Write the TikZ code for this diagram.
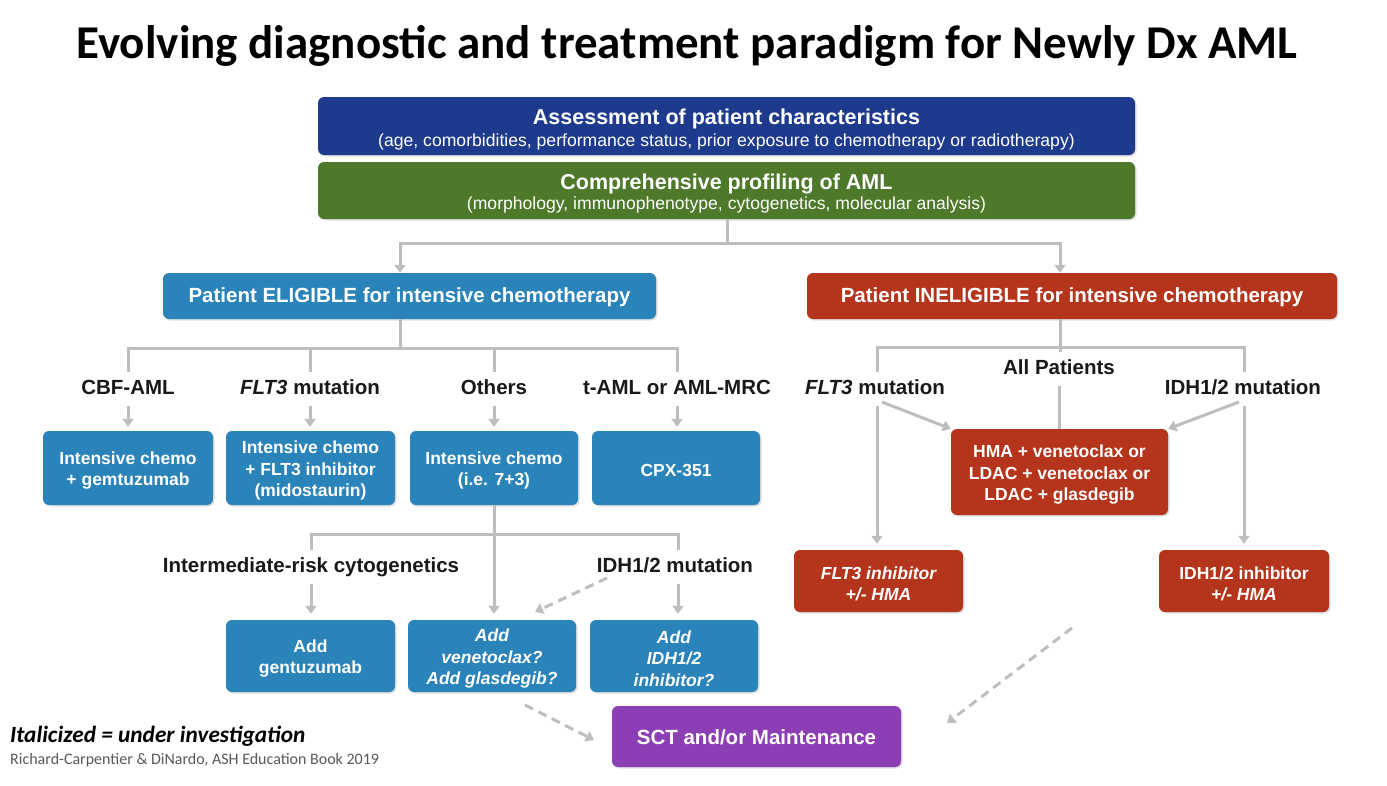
\documentclass[tikz,border=0pt]{standalone}
\usepackage{fontspec}
\setmainfont{Liberation Sans}
\newfontfamily\calib{Carlito}
\usetikzlibrary{arrows.meta,shadows}
\definecolor{navy}{RGB}{30,58,140}
\definecolor{olive}{RGB}{78,120,42}
\definecolor{sky}{RGB}{42,131,185}
\definecolor{brick}{RGB}{180,53,28}
\definecolor{violet}{RGB}{140,62,180}
\definecolor{lgray}{RGB}{190,190,190}
\newcommand\padS{\rule{0pt}{18pt}}
\newcommand\padT{\rule{0pt}{22pt}}
\tikzset{
  box/.style={rounded corners=6pt, text=white, align=center, inner sep=0pt,
    drop shadow={opacity=0.25, shadow xshift=1.5pt, shadow yshift=-1.5pt}},
  small/.style={font=\fontsize{17.5}{21.5}\bfseries},
  head/.style={font=\fontsize{20.5}{24}\bfseries},
  lab/.style={font=\fontsize{20.5}{24}\bfseries, text=black!90, inner ysep=7pt, inner xsep=0pt,
    text height=15pt, text depth=4pt},
  ln/.style={draw=lgray, line width=3pt},
  arr/.style={ln, -{Triangle[width=11pt,length=8pt]}},
  darr/.style={arr, dash pattern=on 9pt off 6pt},
}
\begin{document}
\begin{tikzpicture}[x=1pt,y=-1pt]
\useasboundingbox (0,0) rectangle (1387,785);
\fill[white] (0,0) rectangle (1387,785);
% title
\node[font=\calib\fontsize{47}{54}\bfseries] (title) at (687,46) {Evolving diagnostic and treatment paradigm for Newly Dx AML};
% top boxes
\node[box, fill=navy, minimum width=817pt, minimum height=58pt] (assess) at (726.5,126)
  {{\padT\fontsize{21.5}{24}\bfseries Assessment of patient characteristics}\\[4pt]
   {\fontsize{17.6}{20}\selectfont (age, comorbidities, performance status, prior exposure to chemotherapy or radiotherapy)}};
\node[box, fill=olive, minimum width=817pt, minimum height=57pt] (profile) at (726.5,190.5)
  {{\padT\fontsize{21.5}{24}\bfseries Comprehensive profiling of AML}\\[2pt]
   {\fontsize{17.6}{20}\selectfont (morphology, immunophenotype, cytogenetics, molecular analysis)}};
% eligibility
\node[box, fill=sky, head, minimum width=493pt, minimum height=46pt] (elig) at (409.5,296) {\rule{0pt}{17pt}Patient ELIGIBLE for intensive chemotherapy};
\node[box, fill=brick, head, minimum width=530pt, minimum height=46pt] (inelig) at (1072,296) {\rule{0pt}{17pt}Patient INELIGIBLE for intensive chemotherapy};
\coordinate (pb) at (727,243);
\coordinate (pl) at (400,243);
\coordinate (pr) at (1060,243);
\draw[ln] (profile.south -| pb) -- (pb);
\draw[arr] (pb) -- (pl) -- (elig.north -| pl);
\draw[arr] (pb) -- (pr) -- (inelig.north -| pr);
% eligible branch
\coordinate (eb) at (400,348);
\node[lab] (cbf) at (128,389) {CBF-AML};
\node[lab] (flt) at (310,389) {\textit{FLT3} mutation};
\node[lab] (oth) at (494,389) {Others};
\node[lab] (tam) at (677,389) {t-AML or AML-MRC};
\draw[ln] (elig.south -| eb) -- (eb);
\draw[ln] (cbf.north) |- (eb);
\draw[ln] (tam.north) |- (eb);
\draw[ln] (flt.north) -- (flt.north |- eb);
\draw[ln] (oth.north) -- (oth.north |- eb);
\node[box, fill=sky, small, minimum width=170pt, minimum height=74pt] (b1) at (128,468) {\padS Intensive chemo\\+ gemtuzumab};
\node[box, fill=sky, small, minimum width=169pt, minimum height=74pt] (b2) at (310.5,468) {\padS Intensive chemo\\+ FLT3 inhibitor\\(midostaurin)};
\node[box, fill=sky, small, minimum width=168pt, minimum height=74pt] (b3) at (494,468) {\padS Intensive chemo\\(i.e. 7+3)};
\node[box, fill=sky, small, minimum width=168pt, minimum height=74pt] (b4) at (676,468) {\padS CPX-351};
\foreach \l/\b in {cbf/b1,flt/b2,oth/b3,tam/b4}
  \draw[arr, shorten >=4pt] (\l.south) -- (\l.south |- \b.north);
% second level
\coordinate (sb) at (494,534);
\node[lab] (inter) at (311,567) {Intermediate-risk cytogenetics};
\node[lab] (idhl) at (675,567) {IDH1/2 mutation};
\node[box, fill=sky, small, minimum width=169pt, minimum height=72pt] (c1) at (310.5,656) {\padS Add\\gentuzumab};
\node[box, fill=sky, small, minimum width=168pt, minimum height=72pt] (c2) at (492,656) {\padS\itshape Add\\\itshape venetoclax?\\\itshape Add glasdegib?};
\node[box, fill=sky, small, minimum width=168pt, minimum height=72pt] (c3) at (674,656) {\padS\itshape Add\\\itshape IDH1/2\\\itshape inhibitor?};
\draw[ln] (inter.north) |- (sb);
\draw[ln] (idhl.north -| 678,0) |- (sb);
\draw[arr, shorten >=6pt] (b3.south -| sb) -- (c2.north -| sb);
\draw[arr, shorten >=6pt] (inter.south) -- (inter.south |- c1.north);
\draw[arr, shorten >=6pt] (idhl.south -| 678,0) -- (c3.north -| 678,0);
\coordinate (dd1) at (607,578);
\coordinate (dd2) at (535,612);
\draw[darr] (dd1) -- (dd2);
% SCT
\node[box, fill=violet, font=\fontsize{20.5}{24}\bfseries, minimum width=289pt, minimum height=61pt] (sct) at (756.5,736.5) {\rule{0pt}{17pt}SCT and/or Maintenance};
\coordinate (ds1) at (525,705);
\coordinate (ds2) at (594,740);
\draw[darr] (ds1) -- (ds2);
\coordinate (ds3) at (1072,628);
\coordinate (ds4) at (947,723);
\draw[darr] (ds3) -- (ds4);
% ineligible branch
\coordinate (ib) at (1060,347);
\node[lab] (allp) at (1059,369) {All Patients};
\node[lab] (fltr) at (875,389) {\textit{FLT3} mutation};
\node[lab] (idhr) at (1243,389) {IDH1/2 mutation};
\node[box, fill=brick, small, minimum width=217pt, minimum height=86pt] (hma) at (1059.5,472) {\padS HMA + venetoclax or\\LDAC + venetoclax or\\LDAC + glasdegib};
\node[box, fill=brick, small, minimum width=169pt, minimum height=62pt] (fi) at (878.5,581) {\padS\itshape FLT3 inhibitor\\\itshape +/- HMA};
\node[box, fill=brick, small, minimum width=170pt, minimum height=62pt] (ii) at (1244,581) {\padS IDH1/2 inhibitor\\\itshape +/- HMA};
\draw[ln] (inelig.south -| ib) -- (ib);
\coordinate (fx) at (877,0);
\coordinate (ix) at (1244,0);
\draw[ln] (allp.north -| ib) -- (ib);
\draw[ln] (fltr.north -| fx) |- (ib);
\draw[ln] (idhr.north -| ix) |- (ib);
\draw[ln] (allp.south -| hma.north) -- (hma.north);
\draw[arr, shorten >=6pt] (fltr.south -| fx) -- (fi.north -| fx);
\draw[arr, shorten >=6pt] (idhr.south -| ix) -- (ii.north -| ix);
\coordinate (fd1) at (882,402);
\coordinate (id1) at (1239,402);
\draw[arr] (fd1) -- (hma.north west);
\draw[arr] (id1) -- (hma.north east);
% footer
\node[anchor=west, font=\calib\fontsize{23.3}{26}\bfseries\itshape, inner sep=0pt] (note) at (10,736) {Italicized = under investigation};
\node[anchor=west, font=\calib\fontsize{16}{18}\selectfont, text=black!65, inner sep=0pt] (ref) at (10,760) {Richard-Carpentier \& DiNardo, ASH Education Book 2019};
\end{tikzpicture}
\end{document}
